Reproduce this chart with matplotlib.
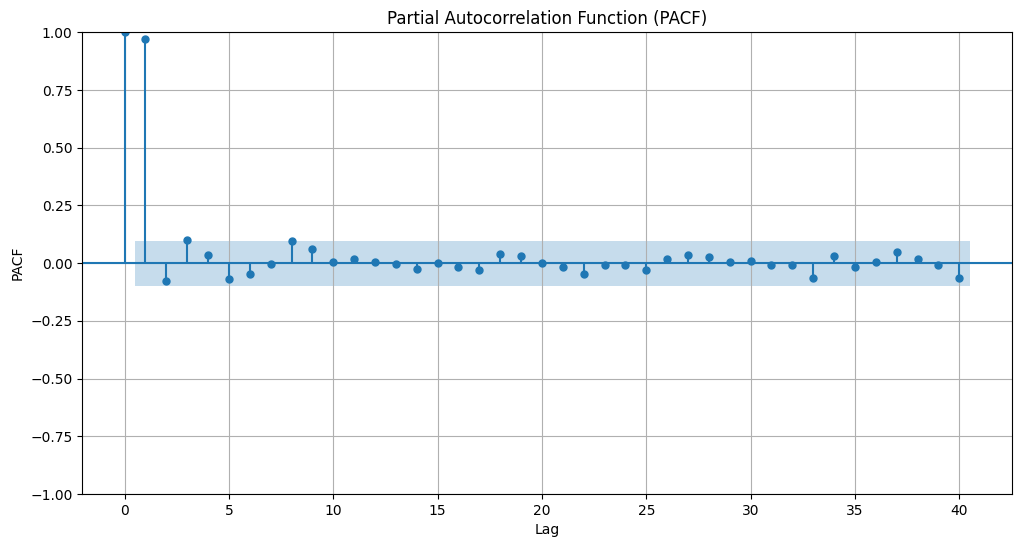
import numpy as np
import matplotlib
matplotlib.use("Agg")
import matplotlib.pyplot as plt

lags = list(range(41))
pacf_values = [1.0, 0.970, -0.077, 0.101, 0.036, -0.068, -0.049, -0.003, 0.097, 0.062,
               0.006, 0.019, 0.006, -0.003, -0.026, 0.001, -0.016, -0.029, 0.040, 0.032,
               0.001, -0.016, -0.046, -0.010, -0.006, -0.029, 0.019, 0.036, 0.025, 0.006,
               0.010, -0.010, -0.006, -0.063, 0.033, -0.016, 0.003, 0.050, 0.020, -0.006,
               -0.063]
conf_half_width = 0.097

fig = plt.figure(figsize=(10.21, 5.47), dpi=100)
ax = fig.add_axes([82.3/1021, (547-494)/547, 929.7/1021, 461.7/547])

lags_arr = np.array(lags)
vals = np.array(pacf_values)
ax.vlines(lags_arr, 0, vals, color="C0", linewidth=1.5)
ax.plot(lags_arr, vals, marker="o", markersize=5, linestyle="None", color="C0")
ax.axhline(0, color="C0", linewidth=1.5)
band_x = np.concatenate([[lags_arr[1] - 0.5], lags_arr[2:], [lags_arr[-1] + 0.5]])
ax.fill_between(band_x, -conf_half_width, conf_half_width, color="C0", alpha=0.25, linewidth=0)

ax.set_ylim(-1, 1)
ax.set_title("Partial Autocorrelation Function (PACF)")
ax.set_xlabel("Lag")
ax.set_ylabel("PACF")
ax.grid(True)
fig.savefig("out.png", dpi=100)
